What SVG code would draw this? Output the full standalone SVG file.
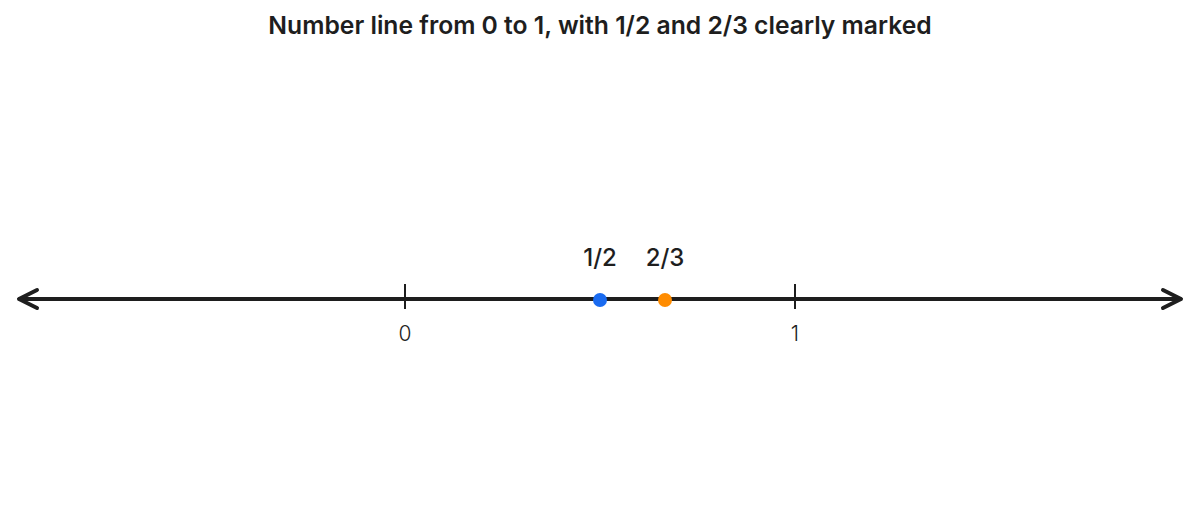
<svg xmlns="http://www.w3.org/2000/svg" width="1200" height="530" viewBox="0 0 1200 530">
<style>
.title{font-family:Inter,"Noto Sans",sans-serif;font-weight:600;font-size:24.7px;fill:#1e1e1e;text-anchor:middle}
.lab{font-family:Inter,"Noto Sans",sans-serif;font-weight:500;font-size:24px;fill:#1e1e1e;text-anchor:middle}
.num{font-family:Inter,"Noto Sans",sans-serif;font-weight:300;font-size:21px;fill:#1e1e1e;text-anchor:middle}
.axis{stroke:#1e1e1e;stroke-width:4;fill:none;stroke-linecap:round;stroke-linejoin:round}
.tick{stroke:#1e1e1e;stroke-width:2}
</style>
<rect width="1200" height="530" fill="#ffffff"/>
<text class="title" x="600" y="34">Number line from 0 to 1, with 1/2 and 2/3 clearly marked</text>
<g id="connectors">
<line class="axis" x1="20" y1="299" x2="1180" y2="299"/>
<polyline class="axis" points="37,290 19,299 37,308"/>
<polyline class="axis" points="1163,290 1181,299 1163,308"/>
</g>
<g id="tick0">
<line class="tick" x1="405" y1="284" x2="405" y2="309"/>
<text class="num" x="405" y="341">0</text>
</g>
<g id="tick1">
<line class="tick" x1="795" y1="284" x2="795" y2="309"/>
<text class="num" x="795" y="341">1</text>
</g>
<g id="half">
<circle cx="600" cy="300" r="7" fill="#1a6bf0"/>
<text class="lab" x="600" y="266">1/2</text>
</g>
<g id="twothirds">
<circle cx="665" cy="300" r="7" fill="#ff8c00"/>
<text class="lab" x="665" y="266">2/3</text>
</g>
</svg>
